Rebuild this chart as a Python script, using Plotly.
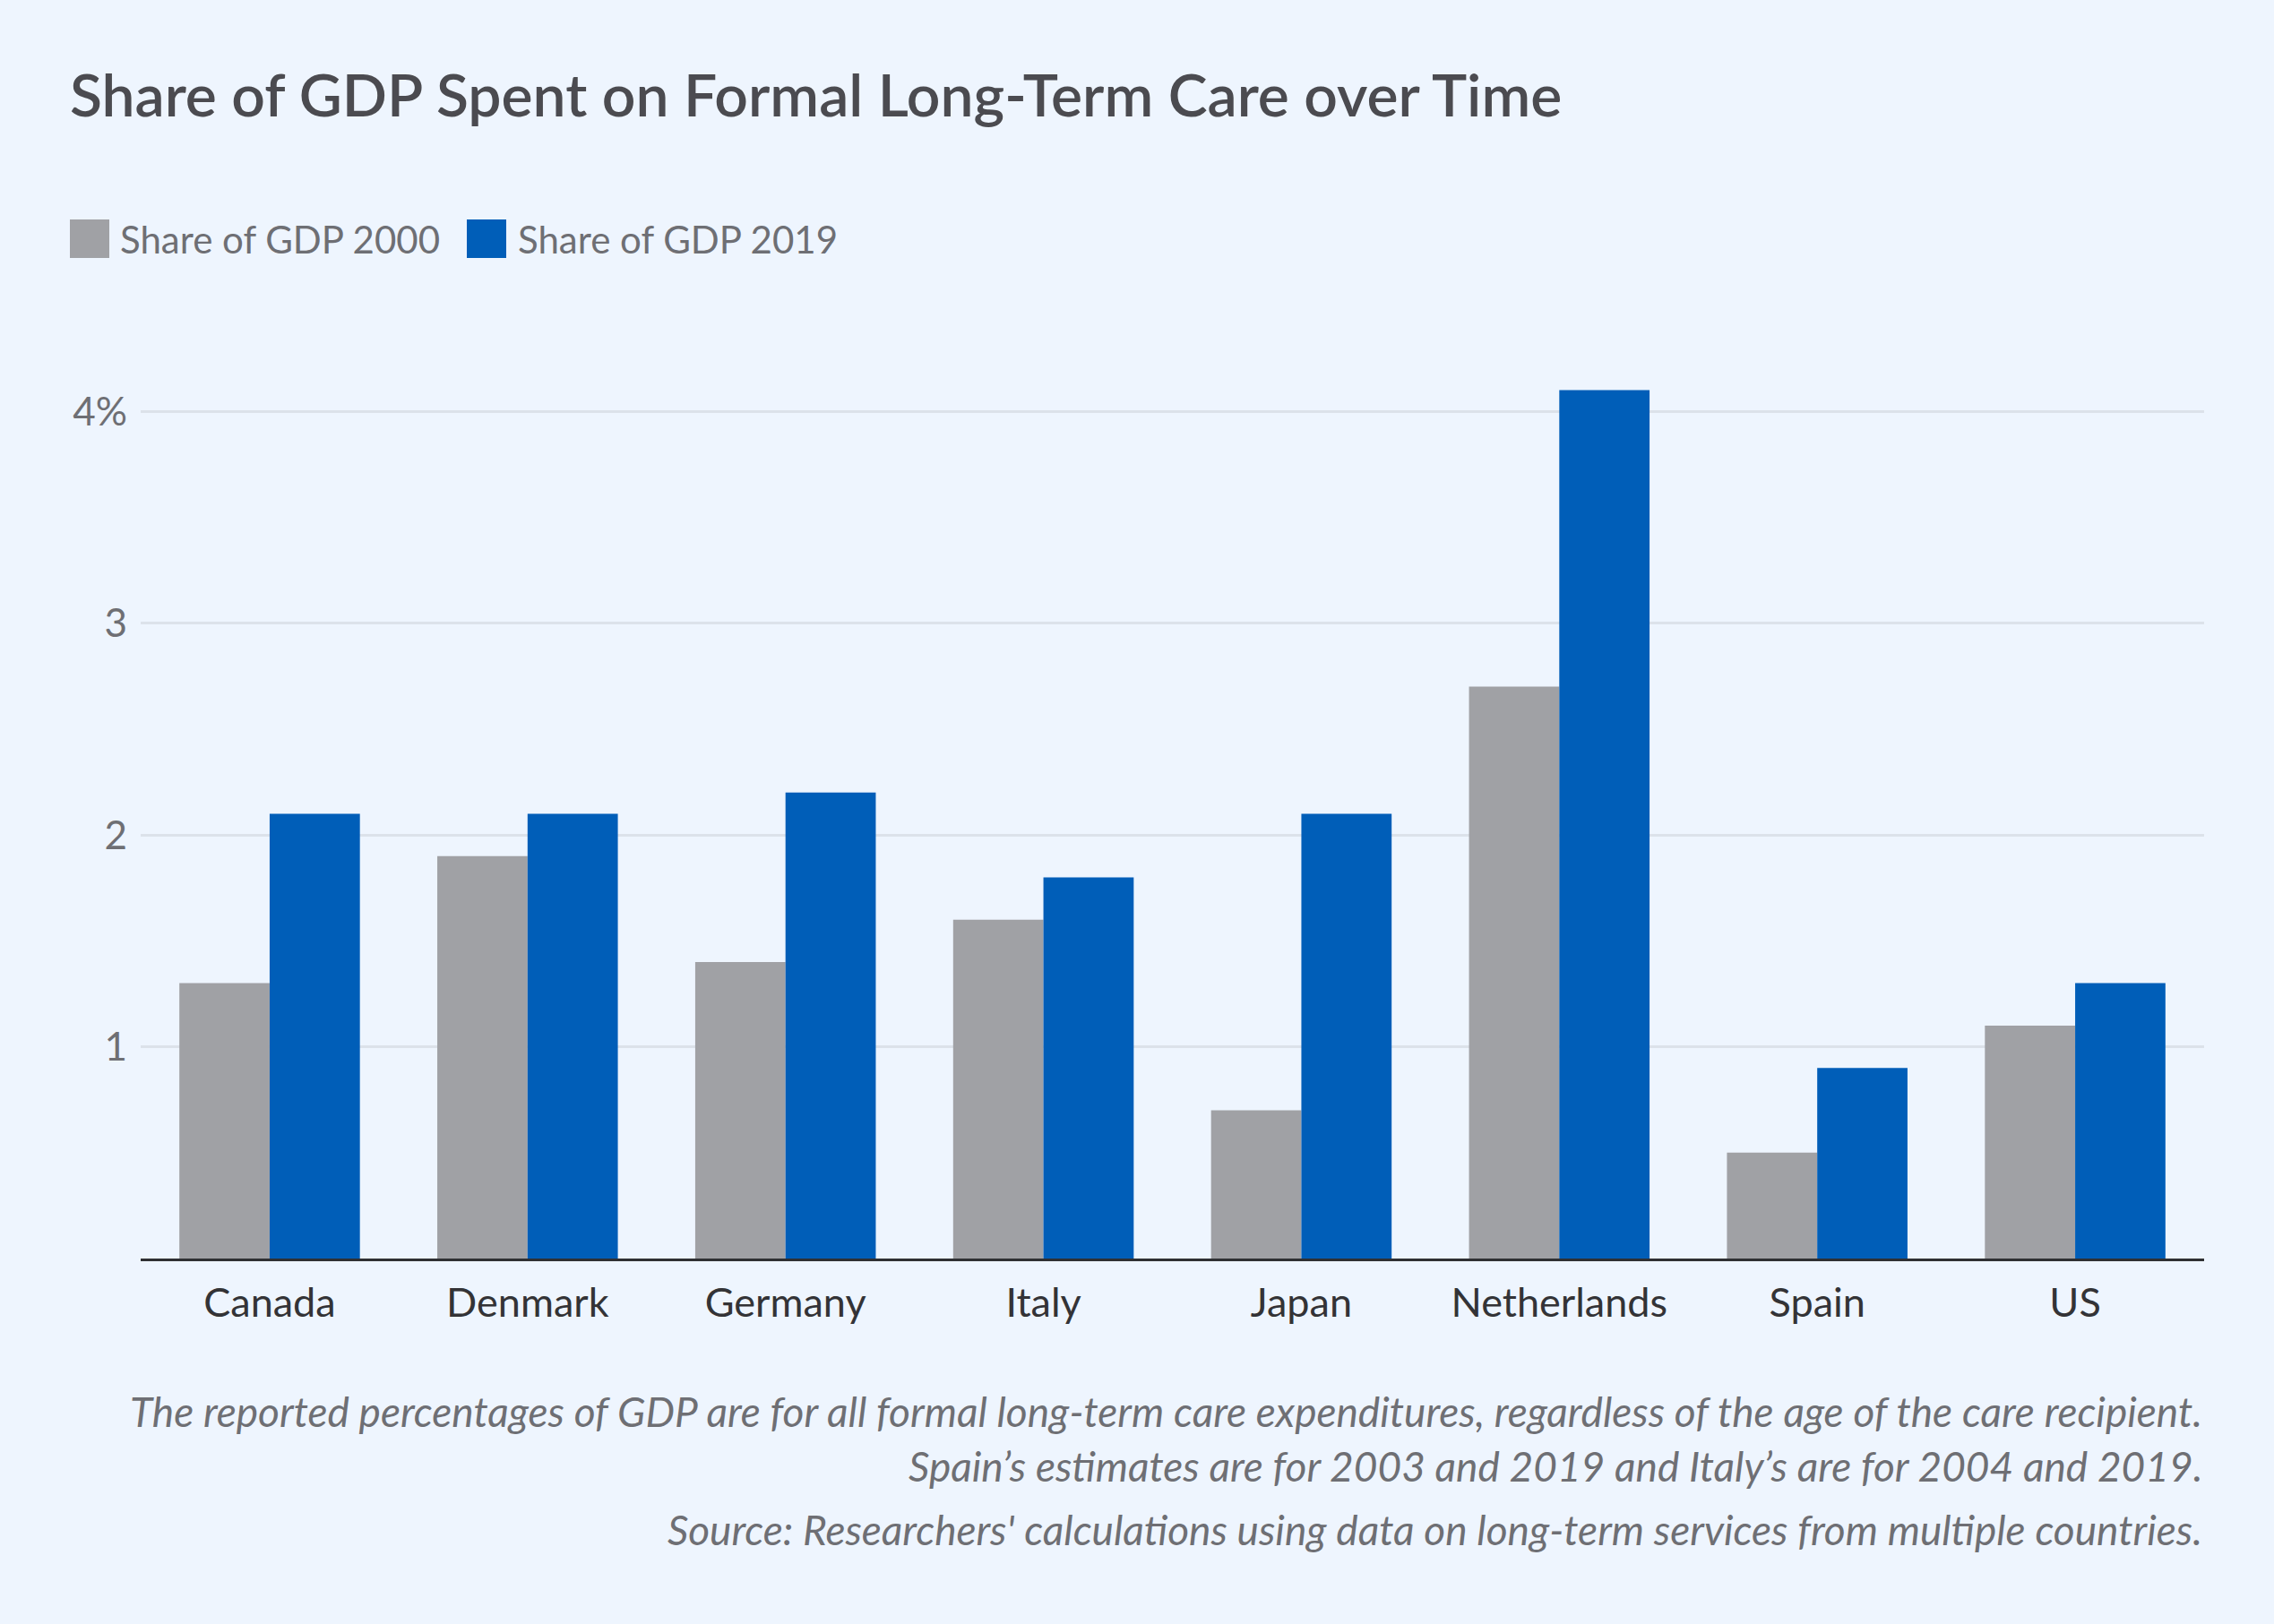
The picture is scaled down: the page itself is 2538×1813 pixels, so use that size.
import plotly.graph_objects as go

# Data (share of GDP, %)
countries = ["Canada", "Denmark", "Germany", "Italy", "Japan", "Netherlands", "Spain", "US"]
share_2000 = [1.3, 1.9, 1.4, 1.6, 0.7, 2.7, 0.5, 1.1]
share_2019 = [2.1, 2.1, 2.2, 1.8, 2.1, 4.1, 0.9, 1.3]
series_names = ["Share of GDP 2000", "Share of GDP 2019"]
y_ticks = [1, 2, 3, 4]
y_tick_labels = ["1", "2", "3", "4%"]
notes = [
    "The reported percentages of GDP are for all formal long-term care expenditures, regardless of the age of the care recipient.",
    "Spain’s estimates are for 2003 and 2019 and Italy’s are for 2004 and 2019.",
    "Source: Researchers' calculations using data on long-term services from multiple countries.",
]

title = "Share of GDP Spent on Formal Long-Term Care over Time"
colors = ["#a0a1a5", "#005eb8"]
bg = "#eef5fe"
font_family = "Source Sans Pro, Lato, sans-serif"

W, H = 2538, 1813
left, right, top, bottom = 157, 78, 341, 408
plot_w = W - left - right
plot_h = H - top - bottom


def px_x(x):
    # pixel -> paper x
    return (x - left) / plot_w


def px_y(y):
    # pixel -> paper y
    return (H - bottom - y) / plot_h


fig = go.Figure()
for name, vals, col in zip(series_names, [share_2000, share_2019], colors):
    fig.add_trace(go.Bar(x=countries, y=vals, name=name, marker_color=col,
                         marker_line_width=0, showlegend=False))

fig.update_layout(
    width=W, height=H,
    margin=dict(l=left, r=right, t=top, b=bottom),
    paper_bgcolor=bg, plot_bgcolor=bg,
    barmode="group", bargap=0.3, bargroupgap=0,
    font=dict(family=font_family, color="#6e6f74"),
    title=dict(text=title, font=dict(size=66, color="#4b4b50", weight=600),
               xref="container", x=78 / W, xanchor="left",
               yref="container", y=1 - 107 / H, yanchor="middle"),
)

fig.update_xaxes(showline=True, linecolor="#2f3033", linewidth=3,
                 showgrid=False, ticks="", ticklabelstandoff=8,
                 tickfont=dict(size=45, color="#333336"))
fig.update_yaxes(range=[0, 4.5], tickvals=y_ticks, ticktext=y_tick_labels,
                 showgrid=True, gridcolor="#dce2ea", gridwidth=3,
                 zeroline=False, showline=False, ticks="", ticklabelstandoff=14,
                 tickfont=dict(size=44, color="#6e6f74"))

# hand-drawn legend with large swatches
legend_pos = [(78, 132), (521, 576)]
for (sx, tx), name, col in zip(legend_pos, series_names, colors):
    fig.add_shape(type="rect", xref="paper", yref="paper",
                  x0=px_x(sx), x1=px_x(sx + 44), y0=px_y(288), y1=px_y(245),
                  fillcolor=col, line_width=0)
    fig.add_annotation(text=name, xref="paper", yref="paper",
                       x=px_x(tx), y=px_y(267), xanchor="left", yanchor="middle",
                       showarrow=False, font=dict(size=42, color="#6e6f74"))

# notes under the chart
for text, y in zip(notes, [1575, 1636, 1707]):
    fig.add_annotation(text=f"<i>{text}</i>", xref="paper", yref="paper",
                       x=px_x(2460), y=px_y(y), xanchor="right", yanchor="middle",
                       showarrow=False, font=dict(size=46, color="#6e6f74"))

fig.write_html("out.html", config={"displayModeBar": False},
               post_script="document.body.style.margin = '0';")
